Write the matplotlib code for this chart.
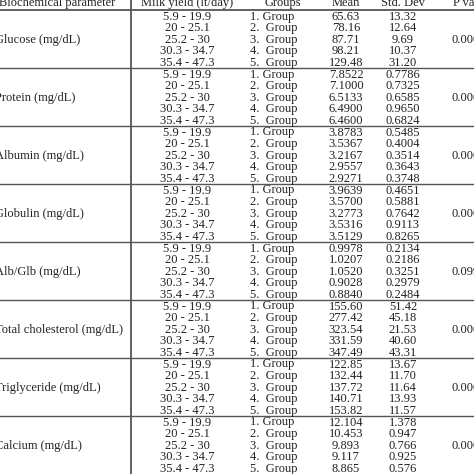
import matplotlib.pyplot as plt

params = ['Glucose (mg/dL)', 'Protein (mg/dL)', 'Albumin (mg/dL)', 'Globulin (mg/dL)',
          'Alb/Glb (mg/dL)', 'Total cholesterol (mg/dL)', 'Triglyceride (mg/dL)', 'Calcium (mg/dL)']
milk = ['5.9 - 19.9', '20 - 25.1', '25.2 - 30', '30.3 - 34.7', '35.4 - 47.3']
groups = ['1. Group', '2.  Group', '3.  Group', '4.  Group', '5.  Group']
means = [
    ['65.63', '78.16', '87.71', '98.21', '129.48'],
    ['7.8522', '7.1000', '6.5133', '6.4900', '6.4600'],
    ['3.8783', '3.5367', '3.2167', '2.9557', '2.9271'],
    ['3.9639', '3.5700', '3.2773', '3.5316', '3.5129'],
    ['0.9978', '1.0207', '1.0520', '0.9028', '0.8840'],
    ['155.60', '277.42', '323.54', '331.59', '347.49'],
    ['122.85', '132.44', '137.72', '140.71', '153.82'],
    ['12.104', '10.453', '9.893', '9.117', '8.865'],
]
stds = [
    ['13.32', '12.64', '9.69', '10.37', '31.20'],
    ['0.7786', '0.7325', '0.6585', '0.9650', '0.6824'],
    ['0.5485', '0.4004', '0.3514', '0.3643', '0.3748'],
    ['0.4651', '0.5881', '0.7642', '0.9113', '0.8265'],
    ['0.2134', '0.2186', '0.3251', '0.2979', '0.2484'],
    ['51.42', '45.18', '21.53', '40.60', '43.31'],
    ['13.67', '11.70', '11.64', '13.93', '11.57'],
    ['1.378', '0.947', '0.766', '0.925', '0.576'],
]
pvals = ['0.000', '0.000', '0.000', '0.000', '0.099', '0.000', '0.000', '0.000']

plt.rcParams['font.family'] = ['Liberation Serif', 'DejaVu Serif']
fig = plt.figure(figsize=(4.74, 4.74), dpi=100)
ax = fig.add_axes([0, 0, 1, 1])
ax.set_xlim(0, 474)
ax.set_ylim(474, 0)
ax.axis('off')

tc = '#222222'
lc = '#555555'
fs = 9

# header
hy = 2.5
for x, t, ha in [(57, 'Biochemical parameter', 'center'), (187, 'Milk yield (lt/day)', 'center'),
                 (283, 'Groups', 'center'), (346, 'Mean', 'center'), (403, 'Std. Dev', 'center'),
                 (453, 'P value', 'left')]:
    ax.text(x, hy, t, ha=ha, va='center', fontsize=fs, color=tc)

ax.plot([0, 474], [10, 10], color=lc, lw=1.3)
ax.plot([131, 131], [0, 474], color=lc, lw=1.3)

for g, p in enumerate(params):
    y0 = 16.5 + 58 * g
    if g > 0:
        ax.plot([0, 474], [10 + 58 * g] * 2, color=lc, lw=1.0)
    ax.text(-5, y0 + 2 * 11.6, p, ha='left', va='center', fontsize=fs, color=tc)
    ax.text(452, y0 + 2 * 11.6, pvals[g], ha='left', va='center', fontsize=fs, color=tc)
    for r in range(5):
        y = y0 + 11.6 * r
        ax.text(187, y, milk[r], ha='center', va='center', fontsize=fs, color=tc)
        ax.text(250, y, groups[r], ha='left', va='center', fontsize=fs, color=tc)
        ax.text(346, y, means[g][r], ha='center', va='center', fontsize=fs, color=tc)
        ax.text(403, y, stds[g][r], ha='center', va='center', fontsize=fs, color=tc)

fig.savefig('out.png', dpi=100)
